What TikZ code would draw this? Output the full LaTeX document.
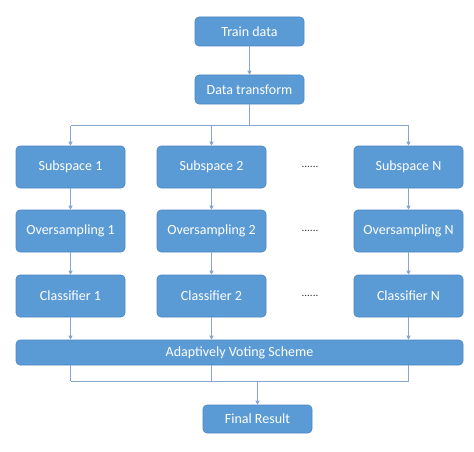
\documentclass[tikz,border=0pt]{standalone}
\usepackage{fontspec}
\setmainfont{Carlito}
\usetikzlibrary{arrows.meta,calc}
\definecolor{boxfill}{RGB}{91,155,213}
\definecolor{boxline}{RGB}{74,134,196}
\definecolor{conn}{RGB}{135,165,205}
\tikzset{
  blockbox/.style={draw=boxline,line width=0.6pt,fill=boxfill,rounded corners=4pt,
    text=white,font=\fontsize{14}{16}\selectfont,inner sep=0pt,
    minimum width=109pt,minimum height=42pt},
  smallbox/.style={blockbox,minimum height=29pt},
  wire/.style={draw=conn,line width=0.8pt},
  arr/.style={wire,-{Triangle[length=4pt,width=4pt]}},
  dotslabel/.style={font=\fontsize{11}{13}\selectfont,text=black!80}
}
\begin{document}
\begin{tikzpicture}[x=1pt,y=-1pt]
\useasboundingbox (0,0) rectangle (474,452);
\node[smallbox] (train) at (249.5,31.5) {Train data};
\node[smallbox] (trans) at (249.5,89.5) {Data transform};
\foreach \n/\x/\l in {1/70.5/1,2/211.5/2,3/408.5/N}{
  \node[blockbox] (sub\n) at (\x,167) {Subspace \l};
  \node[blockbox] (ovs\n) at (\x,231) {Oversampling \l};
  \node[blockbox] (cls\n) at (\x,296) {Classifier \l};
}
\node[dotslabel] (d1) at (310,167) {......};
\node[dotslabel] (d2) at (310,231) {......};
\node[dotslabel] (d3) at (310,296) {......};
\node[blockbox,minimum width=447pt,minimum height=25pt] (vote) at (239.5,352.5) {Adaptively Voting Scheme};
\node[smallbox,minimum height=28pt] (final) at (257.5,419) {Final Result};
\coordinate (split) at (249.5,125.5);
\coordinate (merge) at (257.5,381);
\draw[arr] (train) -- (trans);
\draw[wire] (trans.south) -- (split);
\draw[wire] (sub1.north |- split) -- (sub3.north |- split);
\foreach \n in {1,2,3}{
  \draw[arr] (sub\n.north |- split) -- (sub\n.north);
  \draw[arr] (sub\n) -- (ovs\n);
  \draw[arr] (ovs\n) -- (cls\n);
  \draw[arr] (cls\n.south) -- (cls\n.south |- vote.north);
  \draw[wire] (cls\n.south |- vote.south) -- (cls\n.south |- merge);
}
\draw[wire] (cls1.south |- merge) -- (cls3.south |- merge);
\draw[arr] (merge) -- (final);
\end{tikzpicture}
\end{document}
